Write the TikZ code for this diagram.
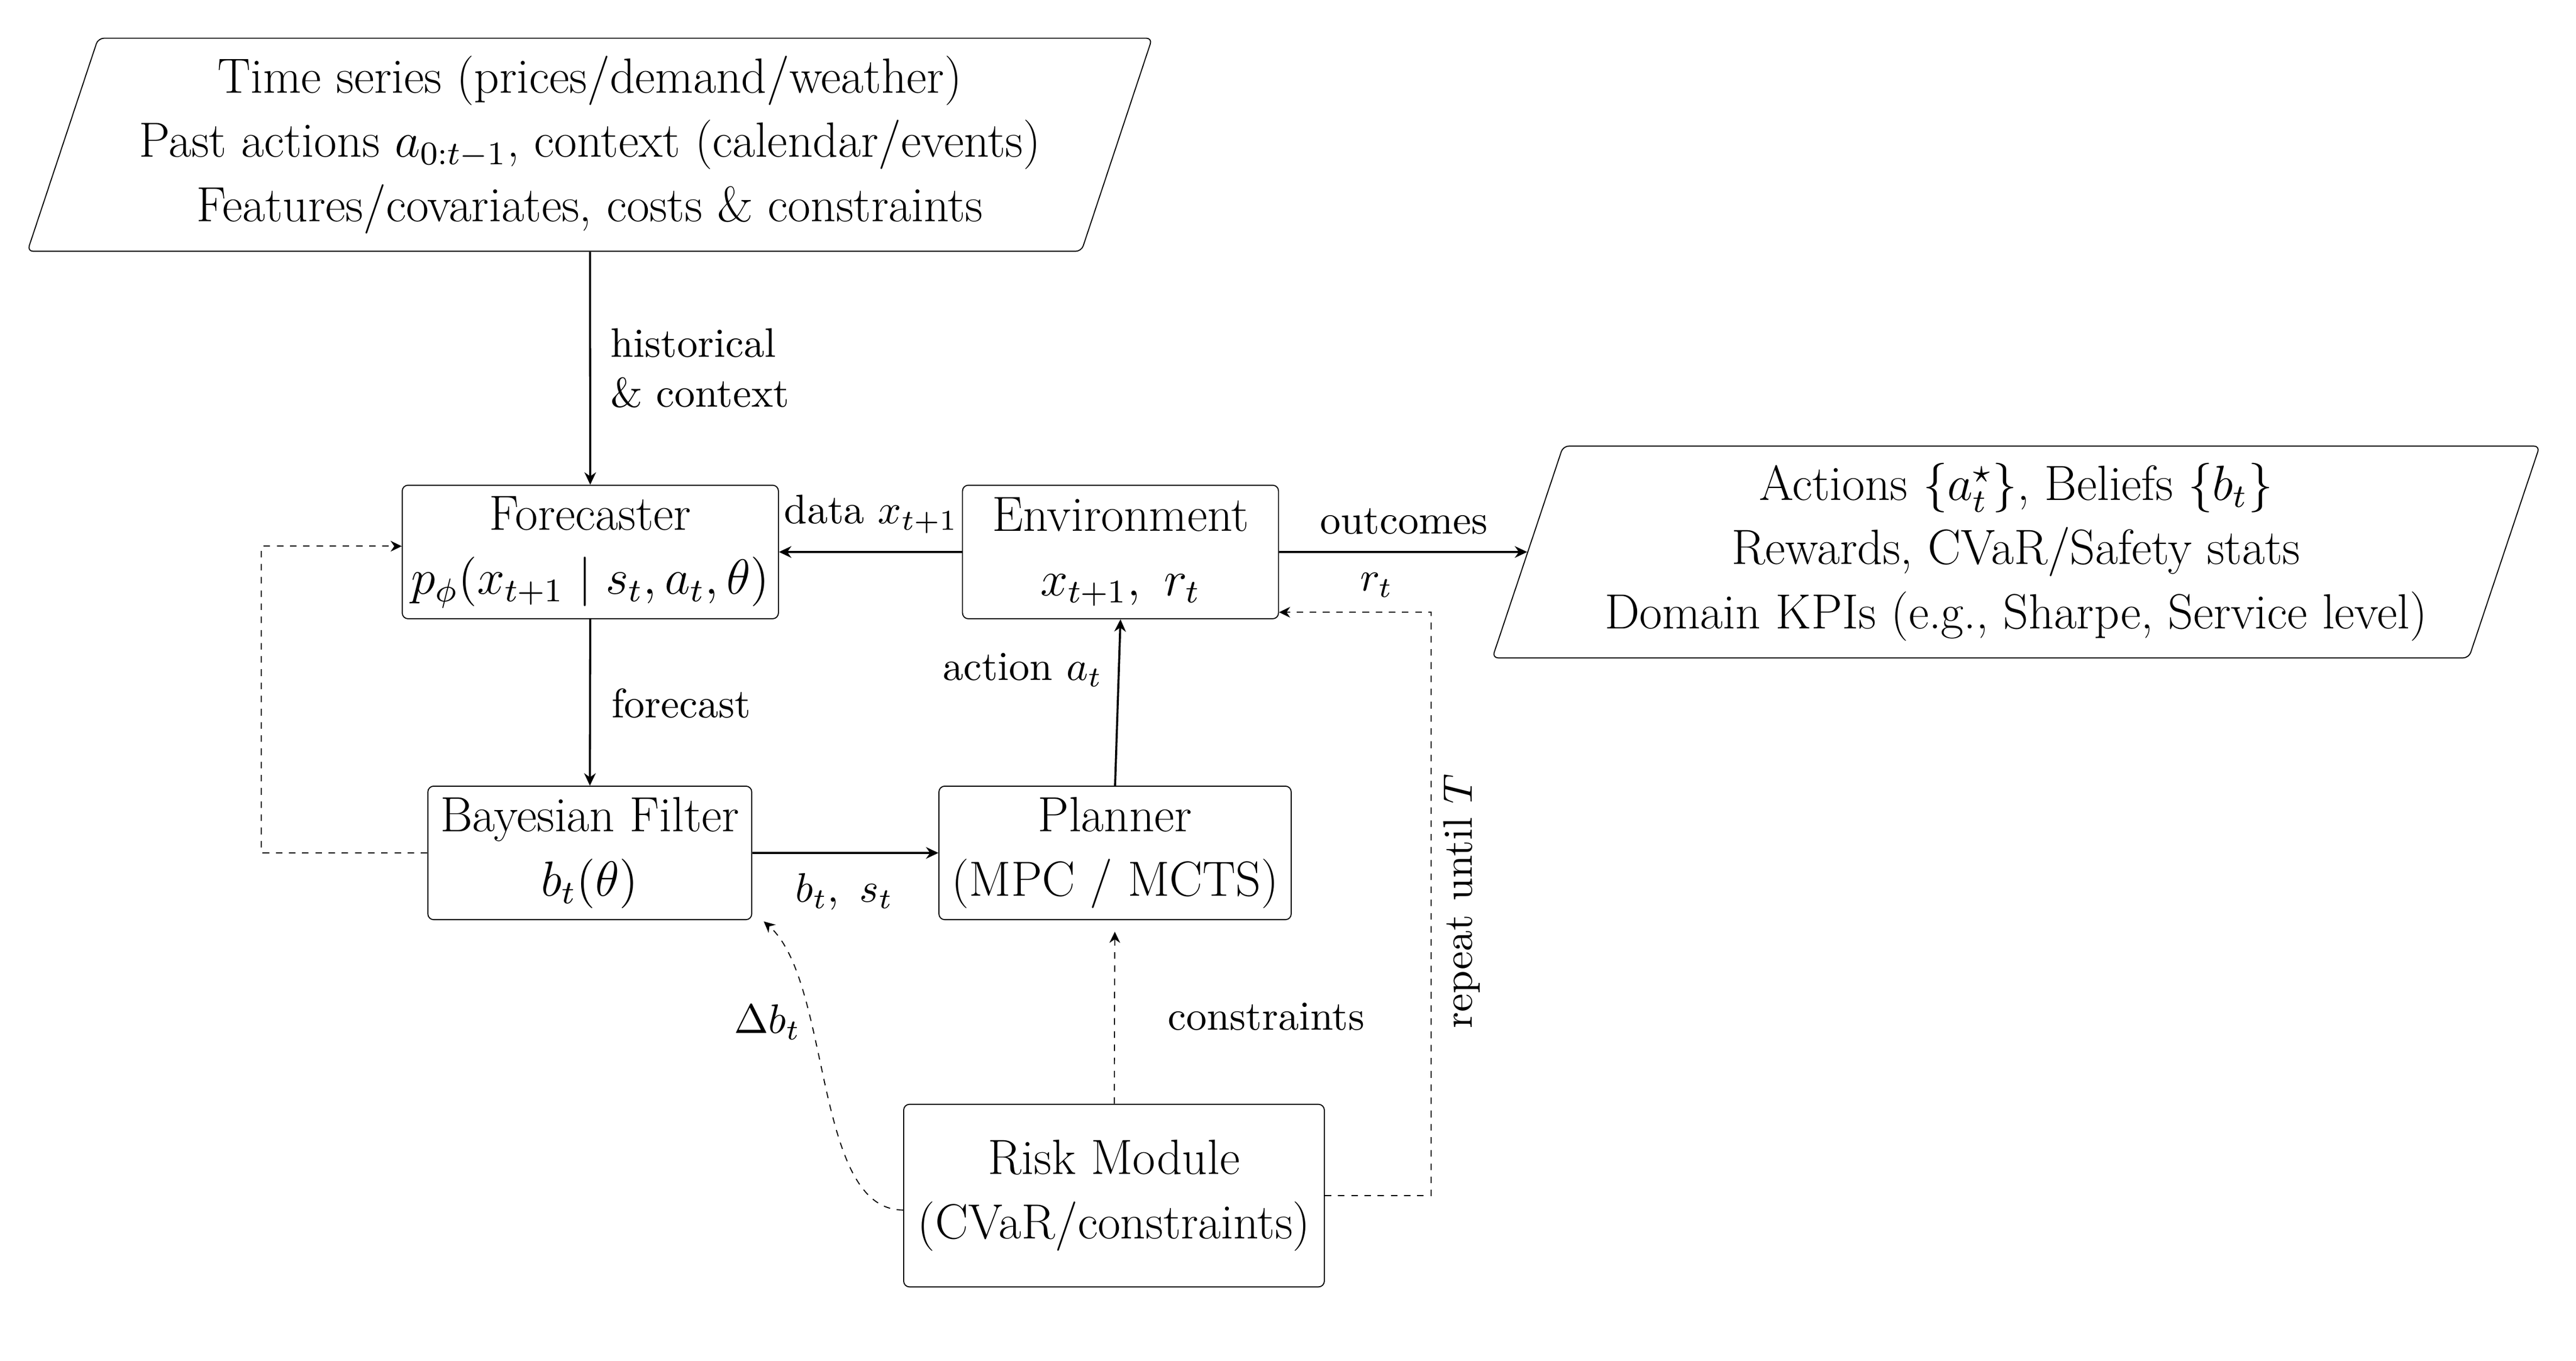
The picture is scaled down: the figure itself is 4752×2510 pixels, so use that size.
\documentclass[tikz,border=0pt]{standalone}
\usetikzlibrary{shapes.geometric,arrows.meta}
\font\nodefontraw="[lmroman17-regular.otf]" at 12pt
\newcommand\nodefont{\fontsize{12}{15.6}\selectfont\nodefontraw}
\tikzset{
  box/.style={draw, line width=0.25pt, rounded corners=1.4pt, align=center,
    inner sep=2pt, font=\nodefont, minimum height=32.4pt},
  io/.style={draw, line width=0.25pt, rounded corners=1.4pt, trapezium,
    trapezium left angle=70, trapezium right angle=110, trapezium stretches body,
    align=center, font=\nodefont, inner sep=2pt},
  arr/.style={line width=0.5pt, -{Stealth[length=3pt,width=2.8pt]}},
  darr/.style={line width=0.25pt, dash pattern=on 1.6pt off 1.6pt,
    -{Stealth[length=2.7pt,width=2.6pt]}},
  lbl/.style={font=\normalsize, inner sep=0pt},
}
\begin{document}
\begin{tikzpicture}[x=0.13158pt, y=-0.13158pt]
\useasboundingbox (0,0) rectangle (4752,2510);
% nodes
\node[io, minimum width=273pt, minimum height=51.7pt] (src) at (1088,267)
  {Time series (prices/demand/weather)\\ Past actions $a_{0:t-1}$, context (calendar/events)\\ Features/covariates, costs \& constraints};
\node[box, minimum width=91.3pt] (fc) at (1089,1018)
  {Forecaster\\ $p_\phi(x_{t+1}\mid s_t, a_t, \theta)$};
\node[box, minimum width=76.7pt] (env) at (2067,1018)
  {Environment\\ $x_{t+1},\ r_t$};
\node[io, minimum width=254.2pt, minimum height=51.4pt] (out) at (3719,1018)
  {Actions $\{a_t^\star\}$, Beliefs $\{b_t\}$\\ Rewards, CVaR/Safety stats\\ Domain KPIs (e.g., Sharpe, Service level)};
\node[box, minimum width=78.6pt] (bf) at (1088,1573)
  {Bayesian Filter\\ $b_t(\theta)$};
\node[box, minimum width=85.5pt] (pl) at (2057,1573)
  {Planner\\ (MPC / MCTS)};
\node[box, minimum width=102.1pt, minimum height=44.3pt] (risk) at (2055,2205)
  {Risk Module\\ (CVaR/constraints)};
% labels
\node[lbl, anchor=west, align=left] (lhist) at (1125,679) {historical\\ \& context};
\node[lbl, anchor=base west] (lfc) at (1127,1324) {forecast};
\node[lbl, anchor=base] (ldata) at (1607,966) {data $x_{t+1}$};
\node[lbl, anchor=base] (lout) at (2590,985) {outcomes};
\node[lbl, anchor=base] (lr) at (2540,1090) {$r_t$};
\node[lbl, anchor=base] (lact) at (1887,1255) {action $a_t$};
\node[lbl, anchor=base] (lbs) at (1558,1664) {$b_t,\ s_t$};
\node[lbl, anchor=base] (ldb) at (1416,1906) {$\Delta b_t$};
\node[lbl, anchor=base] (lcon) at (2336,1900) {constraints};
\node[lbl, anchor=base, rotate=90] (lrep) at (2715,1662) {repeat until $T$};
% connectors
\draw[arr] (src) -- (fc);
\draw[arr] (fc) -- (bf);
\draw[arr] (env) -- (fc);
\draw[arr] (env) -- (out);
\draw[arr] (bf) -- (pl);
\draw[arr] (pl.north) -- (env.south);
\draw[darr] (bf.west) -- ++(-306,0) |- ([yshift=1.4pt]fc.west);
\draw[darr] ([yshift=-3.5pt]risk.west) .. controls (1500,2232) and (1535,1810) .. ([xshift=2.8pt,yshift=-0.3pt]bf.south east);
\draw[darr, shorten >=2.8pt] (risk) -- (pl);
\draw[darr] (risk.east) -- ++(196,0) |- ([yshift=1.7pt]env.south east);
\end{tikzpicture}
\end{document}
